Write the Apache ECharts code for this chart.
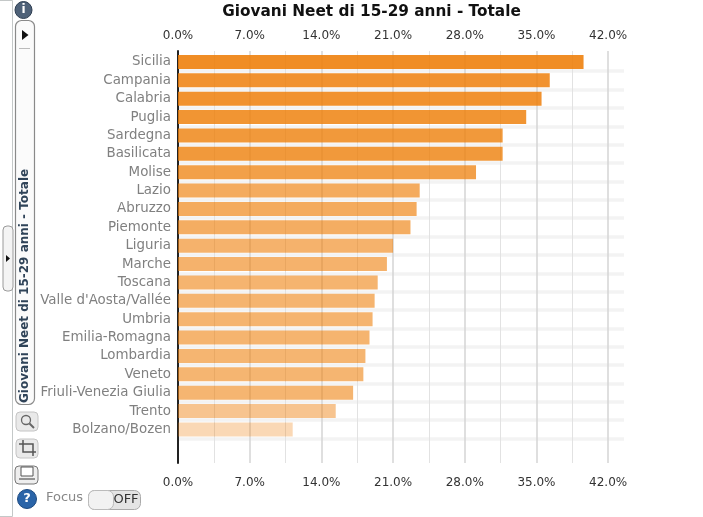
<!DOCTYPE html>
<html style="height:100%">
<head>
<meta charset="utf-8">
<script src="https://cdn.jsdelivr.net/npm/echarts@6/dist/echarts.min.js"></script>
</head>
<body style="height:100%; margin:0; background:#fff">
<div id="container" style="width:703px; height:517px"></div>
<script type="text/javascript">
// region, value, opacity of the orange class
var rows = [
    ['Sicilia', 39.6, 0.89],
    ['Campania', 36.3, 0.85],
    ['Calabria', 35.5, 0.85],
    ['Puglia', 34.0, 0.83],
    ['Sardegna', 31.7, 0.80],
    ['Basilicata', 31.7, 0.80],
    ['Molise', 29.1, 0.74],
    ['Lazio', 23.6, 0.66],
    ['Abruzzo', 23.3, 0.66],
    ['Piemonte', 22.7, 0.64],
    ['Liguria', 21.0, 0.60],
    ['Marche', 20.4, 0.60],
    ['Toscana', 19.5, 0.59],
    ["Valle d'Aosta/Vallée", 19.2, 0.59],
    ['Umbria', 19.0, 0.59],
    ['Emilia-Romagna', 18.7, 0.59],
    ['Lombardia', 18.3, 0.58],
    ['Veneto', 18.1, 0.58],
    ['Friuli-Venezia Giulia', 17.1, 0.58],
    ['Trento', 15.4, 0.46],
    ['Bolzano/Bozen', 11.2, 0.30]
];
var title = 'Giovani Neet di 15-29 anni - Totale';
var font = '"DejaVu Sans"';
var xMax = 43.55;

function pctAxis(pos, gridIndex, show, margin) {
    return {
        type: 'value', position: pos, gridIndex: gridIndex,
        min: 0, max: xMax, interval: 7,
        axisLine: {show: false},
        axisTick: {show: false},
        axisLabel: {
            show: show, margin: margin, color: '#333', fontFamily: font, fontSize: 12,
            showMaxLabel: false,
            formatter: function (v) { return v.toFixed(1) + '%'; }
        },
        minorTick: {show: false, splitNumber: 2},
        minorSplitLine: {show: show, lineStyle: {color: '#e2e2e2', width: 1}},
        splitLine: {show: show, showMaxLine: false, lineStyle: {color: '#d4d4d4', width: 1.5}}
    };
}

var myChart = echarts.init(document.getElementById('container'));
myChart.setOption({
    animation: false,
    title: {
        text: title, left: 366.5, top: 0, textAlign: 'center',
        textStyle: {fontFamily: font, fontSize: 15.3, fontWeight: 'bold', color: '#111'}
    },
    grid: [
        {left: 178, top: 52.8, width: 446, height: 385.8},
        {left: 178, top: 51, width: 446, height: 412}
    ],
    xAxis: [
        Object.assign(pctAxis('top', 0, false, 9), {show: false}),
        pctAxis('top', 1, true, 9),
        Object.assign(pctAxis('bottom', 1, true, 14), {minorSplitLine: {show: false}, splitLine: {show: false}})
    ],
    yAxis: [
        {
            type: 'category', gridIndex: 0, inverse: true,
            data: rows.map(function (r) { return r[0]; }),
            axisLine: {show: false},
            axisTick: {show: false},
            axisLabel: {margin: 7, color: '#808080', fontFamily: font, fontSize: 13.4, interval: 0, padding: [0, 0, 2, 0]},
            splitLine: {show: true, showMinLine: false, interval: 0, lineStyle: {color: '#f3f3f3', width: 3.5}}
        },
        {
            type: 'value', gridIndex: 1, min: 0, max: 1,
            axisLine: {show: true, onZero: false, lineStyle: {color: '#222', width: 2}},
            axisTick: {show: false},
            axisLabel: {show: false},
            splitLine: {show: false}
        }
    ],
    series: [{
        type: 'bar', xAxisIndex: 0, yAxisIndex: 0, barWidth: 14, z: 3,
        data: rows.map(function (r) {
            return {value: r[1], itemStyle: {color: '#ee7f0a', opacity: r[2]}};
        })
    }],
    graphic: [
        // side panel edge
        {type: 'polyline', shape: {points: [[0, 0.5], [12.5, 0.5], [12.5, 516.5], [0, 516.5]]}, style: {fill: '#fff', stroke: '#c4c8c8', lineWidth: 1}},
        {type: 'rect', shape: {x: 3, y: 226, width: 10, height: 65, r: 4}, style: {fill: '#f4f4f4', stroke: '#9a9a9a', lineWidth: 1}},
        {type: 'polygon', shape: {points: [[6, 255], [10, 258.5], [6, 262]]}, style: {fill: '#111'}},
        // vertical tab
        {type: 'rect', shape: {x: 15.5, y: 20.5, width: 19, height: 384, r: 6}, style: {fill: '#fbfbfb', stroke: '#8a8a8a', lineWidth: 1.2}},
        {type: 'polygon', shape: {points: [[22, 30], [28.5, 35], [22, 40]]}, style: {fill: '#111'}},
        {type: 'line', shape: {x1: 19, y1: 48.5, x2: 30, y2: 48.5}, style: {stroke: '#bbb', lineWidth: 1}},
        {type: 'text', x: 24.5, y: 403, rotation: Math.PI / 2, style: {text: title, fontFamily: font, fontSize: 12, fontWeight: 'bold', fill: '#2f4358', align: 'left', verticalAlign: 'middle'}, originX: 0, originY: 0},
        // info button
        {type: 'circle', shape: {cx: 23.5, cy: 10, r: 8.5}, style: {fill: '#4e6178', stroke: '#2d3d50', lineWidth: 1}},
        {type: 'text', x: 23.5, y: 10, style: {text: 'i', fontFamily: font, fontSize: 12, fontWeight: 'bold', fill: '#fff', align: 'center', verticalAlign: 'middle'}},
        // zoom, crop, print buttons
        {type: 'rect', shape: {x: 16, y: 412, width: 22, height: 19, r: 4}, style: {fill: '#e9e9e9', stroke: '#c4c4c4', lineWidth: 1}},
        {type: 'circle', shape: {cx: 26, cy: 420, r: 4.5}, style: {fill: 'none', stroke: '#666', lineWidth: 1.3}},
        {type: 'line', shape: {x1: 29.5, y1: 423.5, x2: 34, y2: 428}, style: {stroke: '#666', lineWidth: 2}},
        {type: 'rect', shape: {x: 16, y: 439, width: 22, height: 19, r: 4}, style: {fill: '#e9e9e9', stroke: '#c4c4c4', lineWidth: 1}},
        {type: 'polyline', shape: {points: [[19, 444], [33, 444], [33, 456]]}, style: {fill: 'none', stroke: '#555', lineWidth: 1.5}},
        {type: 'polyline', shape: {points: [[23, 440], [23, 452], [36, 452]]}, style: {fill: 'none', stroke: '#555', lineWidth: 1.5}},
        {type: 'rect', shape: {x: 15, y: 466, width: 23, height: 18, r: 4}, style: {fill: '#eeeeee', stroke: '#777', lineWidth: 1}},
        {type: 'rect', shape: {x: 21, y: 467, width: 12, height: 9}, style: {fill: '#fff', stroke: '#555', lineWidth: 1}},
        {type: 'line', shape: {x1: 19, y1: 479, x2: 35, y2: 479}, style: {stroke: '#555', lineWidth: 1.2}},
        // help and focus
        {type: 'circle', shape: {cx: 27, cy: 499, r: 9.5}, style: {fill: '#2a64a8', stroke: '#1d4a80', lineWidth: 1}},
        {type: 'text', x: 27, y: 499, style: {text: '?', fontFamily: font, fontSize: 13, fontWeight: 'bold', fill: '#fff', align: 'center', verticalAlign: 'middle'}},
        {type: 'text', x: 46, y: 498, style: {text: 'Focus', fontFamily: font, fontSize: 13, fill: '#888', align: 'left', verticalAlign: 'middle'}},
        {type: 'rect', shape: {x: 88.5, y: 490.5, width: 52, height: 19, r: 6}, style: {fill: '#e4e4e4', stroke: '#aaa', lineWidth: 1}},
        {type: 'rect', shape: {x: 88.5, y: 490.5, width: 25, height: 19, r: 6}, style: {fill: '#f2f2f2', stroke: '#bbb', lineWidth: 1}},
        {type: 'text', x: 126, y: 500, style: {text: 'OFF', fontFamily: font, fontSize: 13, fill: '#333', align: 'center', verticalAlign: 'middle'}}
    ]
});
</script>
</body>
</html>
